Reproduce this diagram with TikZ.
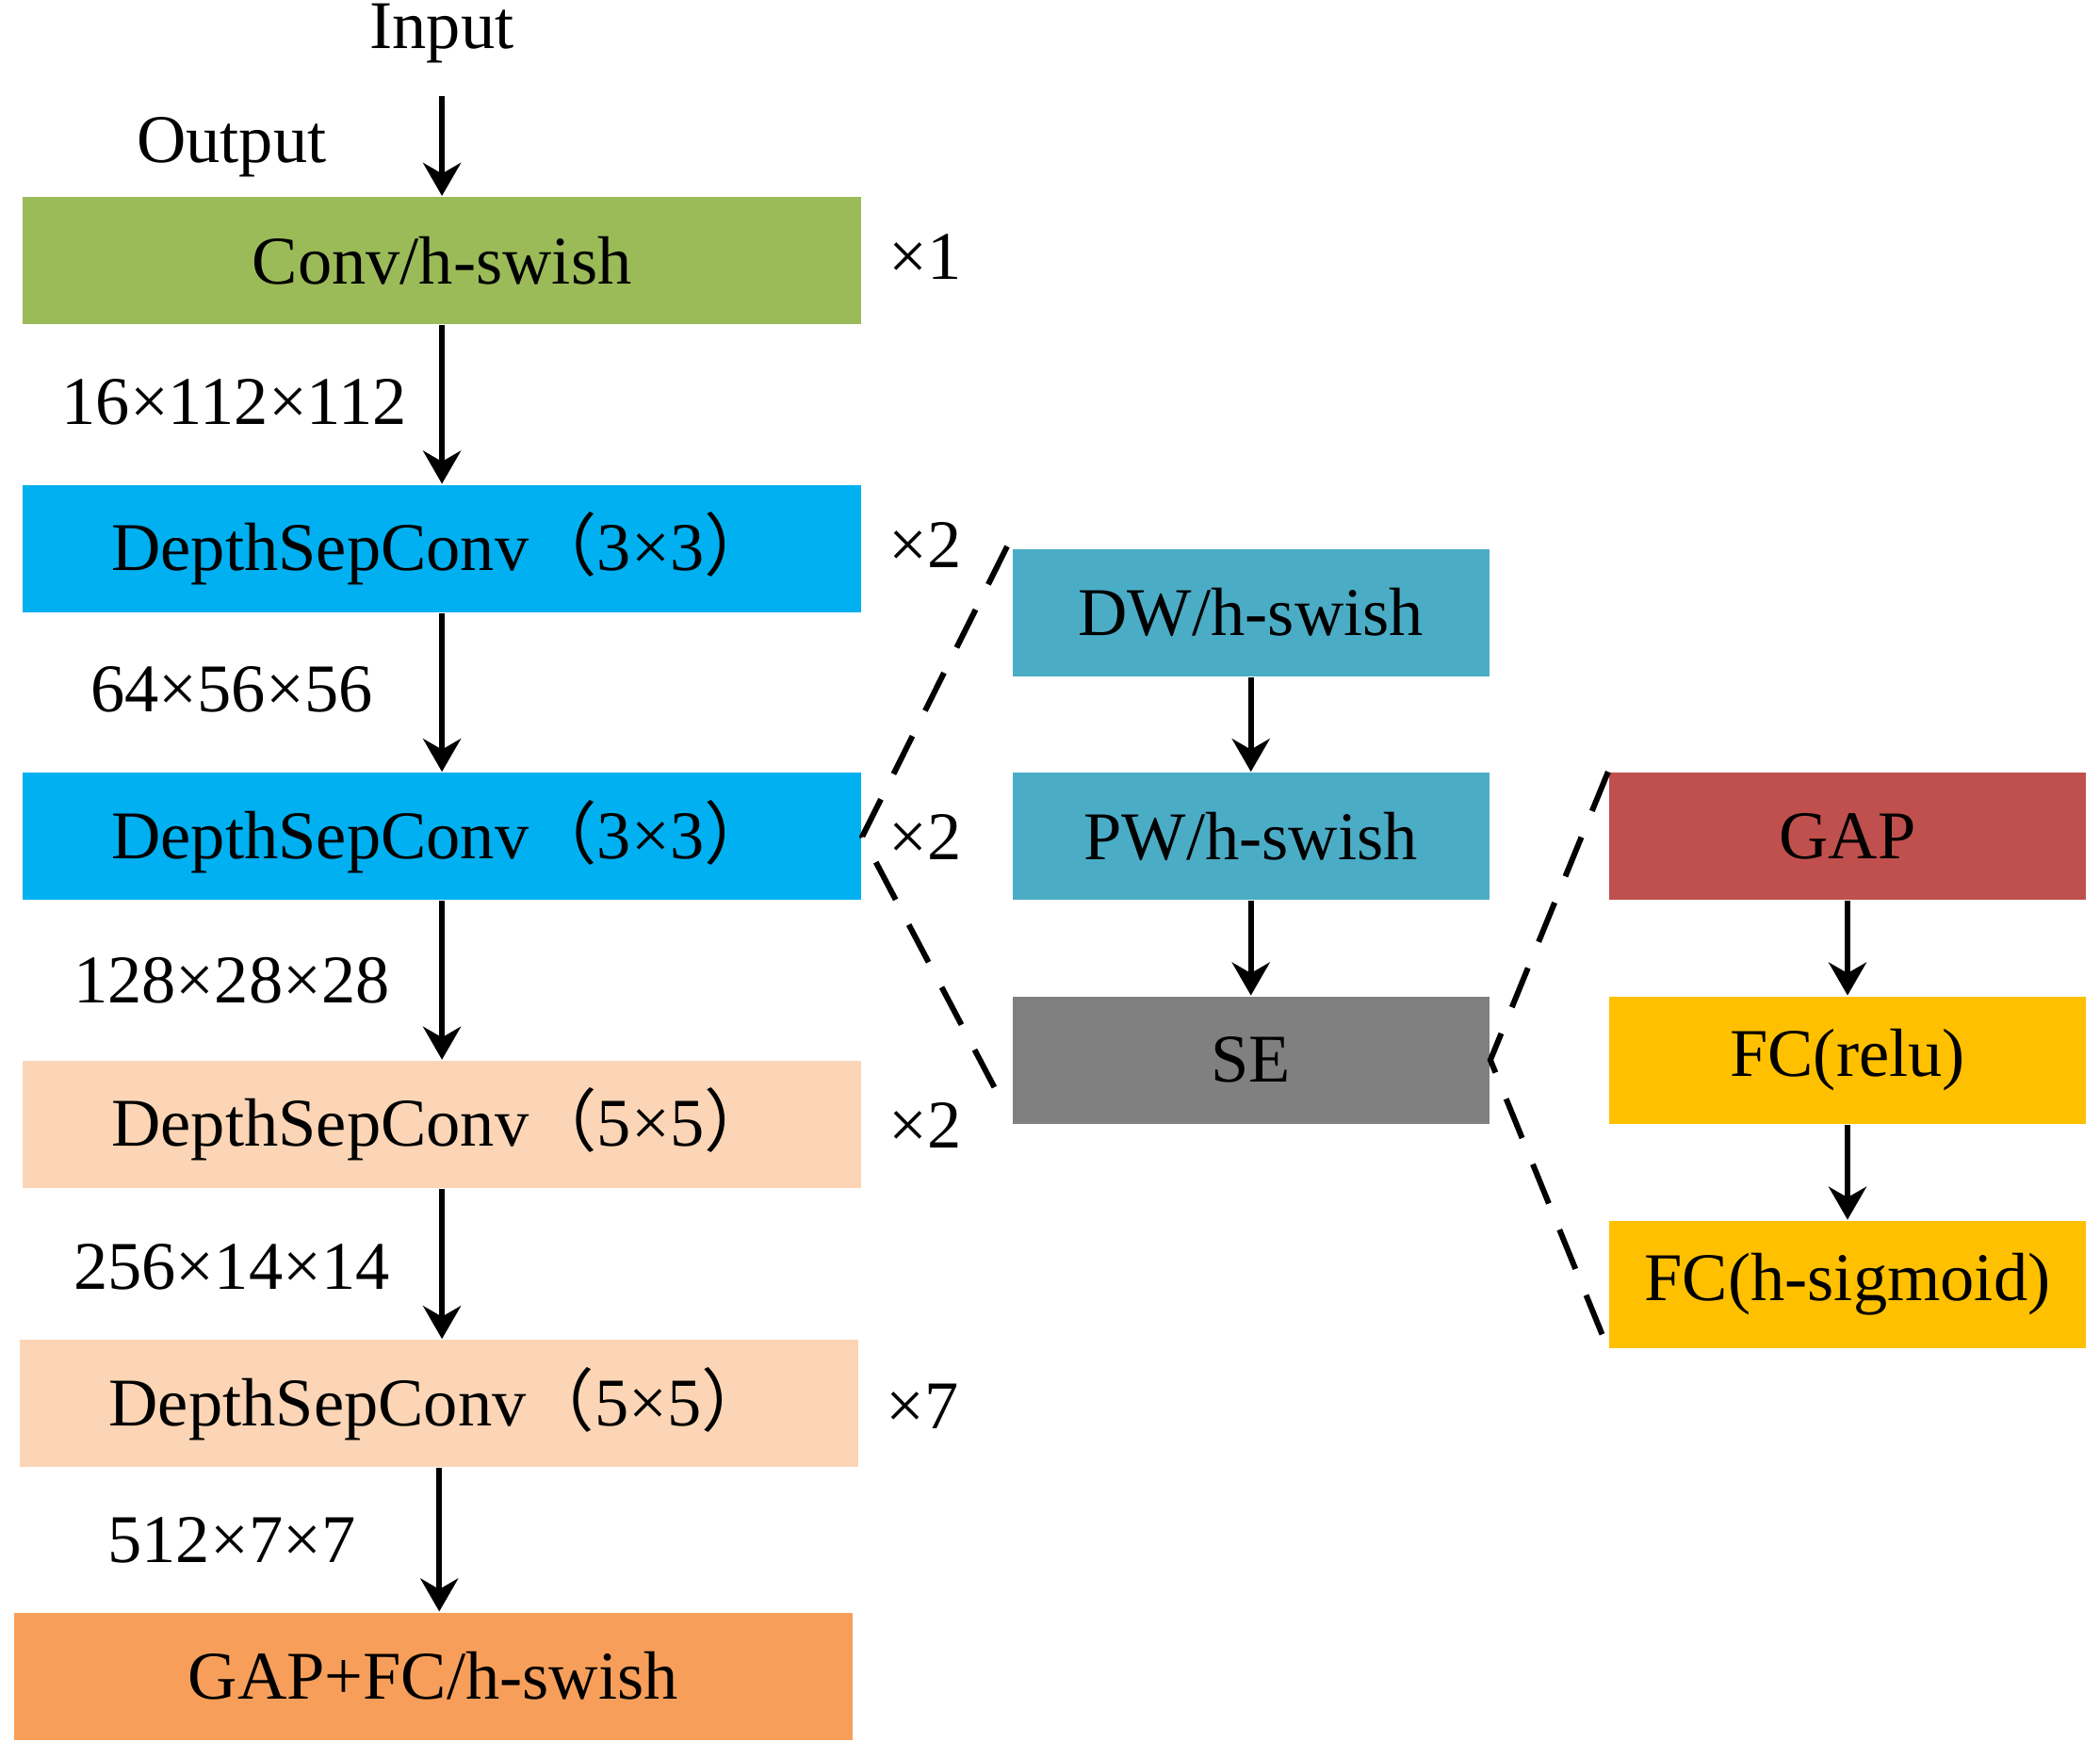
\documentclass[tikz,border=0pt]{standalone}
\usetikzlibrary{arrows.meta}
\usepackage{fontspec}
\setmainfont{Liberation Serif}
\newfontfamily\cjk{Noto Sans CJK SC}
\newcommand{\lp}{{\cjk （}}
\newcommand{\rp}{{\cjk ）}}
\begin{document}
\begin{tikzpicture}[x=0.01cm,y=-0.01cm,
  every node/.style={font=\fontsize{14.5}{17}\selectfont},
  box/.style={draw=none,minimum height=0.95cm,inner sep=0pt},
  wide/.style={box,minimum width=6.26cm},
  mid/.style={box,minimum width=3.56cm},
  arr/.style={-{Stealth[length=7pt,width=8pt]},line width=1.2pt},
  dsh/.style={dashed,line width=1.2pt,dash pattern=on 9pt off 6pt}]
\useasboundingbox (0,0) rectangle (1568,1312);
\definecolor{cgreen}{HTML}{9BBB59}
\definecolor{cblue}{HTML}{00B0F0}
\definecolor{cpeach}{HTML}{FBD5B5}
\definecolor{corange}{HTML}{F79F5A}
\definecolor{cteal}{HTML}{4BACC6}
\definecolor{cgray}{HTML}{808080}
\definecolor{cred}{HTML}{C0504D}
\definecolor{cyel}{HTML}{FFC000}
\node (in) at (330,25) {Input};
\node (out) at (173,110) {Output};
\node[wide,fill=cgreen] (c1) at (330,194.5) {Conv/h-swish};
\node[wide,fill=cblue] (c2) at (330,409.5) {DepthSepConv\lp 3×3\rp};
\node[wide,fill=cblue] (c3) at (330,624.5) {DepthSepConv\lp 3×3\rp};
\node[wide,fill=cpeach] (c4) at (330,839.5) {DepthSepConv\lp 5×5\rp};
\node[wide,fill=cpeach] (c5) at (328,1048) {DepthSepConv\lp 5×5\rp};
\node[wide,fill=corange] (c6) at (323.5,1251.5) {GAP+FC/h-swish};
\node (l1) at (175,300) {16×112×112};
\node (l2) at (173,515) {64×56×56};
\node (l3) at (173,732) {128×28×28};
\node (l4) at (173,946) {256×14×14};
\node (l5) at (173,1150) {512×7×7};
\node (m1) at (691,192) {×1};
\node (m2) at (691,407) {×2};
\node (m3) at (691,625) {×2};
\node (m4) at (691,840) {×2};
\node (m5) at (689,1050) {×7};
\coordinate (ia) at (330,72);
\draw[arr] (ia) -- (c1.north);
\draw[arr] (c1.south) -- (c2.north);
\draw[arr] (c2.south) -- (c3.north);
\draw[arr] (c3.south) -- (c4.north);
\draw[arr] (c4.south) -- (c4.south |- c5.north);
\draw[arr] (c5.south) -- (c5.south |- c6.north);
\node[mid,fill=cteal] (dw) at (934,457.5) {DW/h-swish};
\node[mid,fill=cteal] (pw) at (934,624.5) {PW/h-swish};
\node[mid,fill=cgray] (se) at (934,791.5) {SE};
\draw[arr] (dw) -- (pw);
\draw[arr] (pw) -- (se);
\node[mid,fill=cred] (gap) at (1379.5,624.5) {GAP};
\node[mid,fill=cyel] (fr) at (1379.5,791.5) {FC(relu)};
\node[mid,fill=cyel] (fh) at (1379.5,959) {FC(h-sigmoid)};
\draw[arr] (gap) -- (fr);
\draw[arr] (fr) -- (fh);
\coordinate (d1) at (752,408);
\coordinate (d2) at (752,830);
\draw[dsh] (d1) -- (c3.east) -- (d2);
\draw[dsh] (gap.north west) -- (se.east) -- (fh.south west);
\end{tikzpicture}
\end{document}
